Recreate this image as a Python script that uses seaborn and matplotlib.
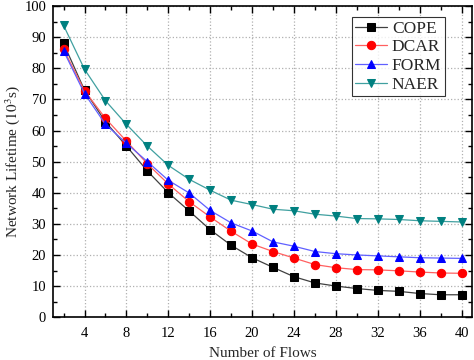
import matplotlib
matplotlib.use("Agg")
import matplotlib.pyplot as plt
from matplotlib.ticker import MultipleLocator
import seaborn as sns
import pandas as pd

flows = [2, 4, 6, 8, 10, 12, 14, 16, 18, 20, 22, 24, 26, 28, 30, 32, 34, 36, 38, 40]
cope = [88.0, 73.0, 62.8, 55.0, 47.0, 40.0, 34.1, 28.1, 23.1, 19.1, 16.0, 13.0, 11.0, 10.0, 9.2, 8.6, 8.3, 7.6, 7.2, 7.2]
dcar = [86.1, 72.8, 63.9, 56.6, 49.3, 42.8, 37.1, 32.2, 27.6, 23.5, 21.1, 19.0, 16.9, 15.9, 15.3, 15.2, 14.9, 14.5, 14.2, 14.1]
form = [85.6, 71.9, 62.0, 55.9, 50.0, 44.0, 39.9, 34.3, 30.3, 27.7, 24.2, 22.8, 21.1, 20.4, 20.0, 19.7, 19.4, 19.1, 19.0, 18.9]
naer = [93.8, 79.7, 69.6, 62.0, 55.0, 48.8, 44.3, 40.8, 37.6, 36.2, 34.7, 34.2, 33.1, 32.5, 31.7, 31.6, 31.4, 31.0, 30.8, 30.6]

names = ["COPE", "DCAR", "FORM", "NAER"]
marker_colors = ["#000000", "#ff0000", "#0000ff", "#008080"]
line_colors = ["#404040", "#ff6060", "#6060ff", "#40a0a0"]
marker_shapes = ["s", "o", "^", "v"]

df = pd.DataFrame({
    "flows": flows * 4,
    "lifetime": cope + dcar + form + naer,
    "method": [n for n in names for _ in flows],
})

sns.set_style("ticks")
plt.rcParams["font.family"] = ["Liberation Serif", "DejaVu Serif"]
plt.rcParams["mathtext.fontset"] = "stix"

fig = plt.figure(figsize=(4.74, 3.6), dpi=100)
ax = fig.add_axes([0.112, 0.119, 0.884, 0.864])

sns.lineplot(
    data=df,
    x="flows",
    y="lifetime",
    hue="method",
    style="method",
    hue_order=names,
    style_order=names,
    palette=dict(zip(names, line_colors)),
    markers=dict(zip(names, marker_shapes)),
    dashes=False,
    legend=False,
    linewidth=0.9,
    markersize=6,
    ax=ax
)

for line, name, mc in zip(ax.lines, names, marker_colors):
    line.set_markerfacecolor(mc)
    line.set_markeredgecolor(mc)
    line.set_label(name)

ax.set_xlim(1, 41)
ax.set_ylim(0, 100)
ax.xaxis.set_major_locator(MultipleLocator(4))
ax.xaxis.set_minor_locator(MultipleLocator(2))
ax.yaxis.set_major_locator(MultipleLocator(10))
ax.yaxis.set_minor_locator(MultipleLocator(5))

ax.grid(True, which="major", linestyle=":", color="#b0b0b0", linewidth=0.9)
ax.tick_params(which="both", direction="in", top=True, right=True, colors="black", labelsize=10.5)
ax.tick_params(which="major", length=5, width=1)
ax.tick_params(which="minor", length=3, width=1)
ax.tick_params(axis="x", pad=7)
ax.tick_params(axis="y", pad=5)
for s in ax.spines.values():
    s.set_linewidth(1.2)
    s.set_color("black")

ax.set_xlabel("Number of Flows", fontsize=11)
ax.set_ylabel(r"Network Lifetime ($10^3$s)", fontsize=11)
ax.xaxis.set_label_coords(0.5, -0.095)
ax.yaxis.set_label_coords(-0.075, 0.5)

leg = ax.legend(
    loc="upper right",
    bbox_to_anchor=(0.935, 0.965),
    fontsize=12.5,
    frameon=True,
    fancybox=False,
    handlelength=1.8,
    borderpad=0.2,
    labelspacing=0.15,
    handletextpad=0.3,
    borderaxespad=0
)
leg.get_frame().set_edgecolor("black")
leg.get_frame().set_linewidth(0.8)

fig.savefig("out.png", dpi=100)
